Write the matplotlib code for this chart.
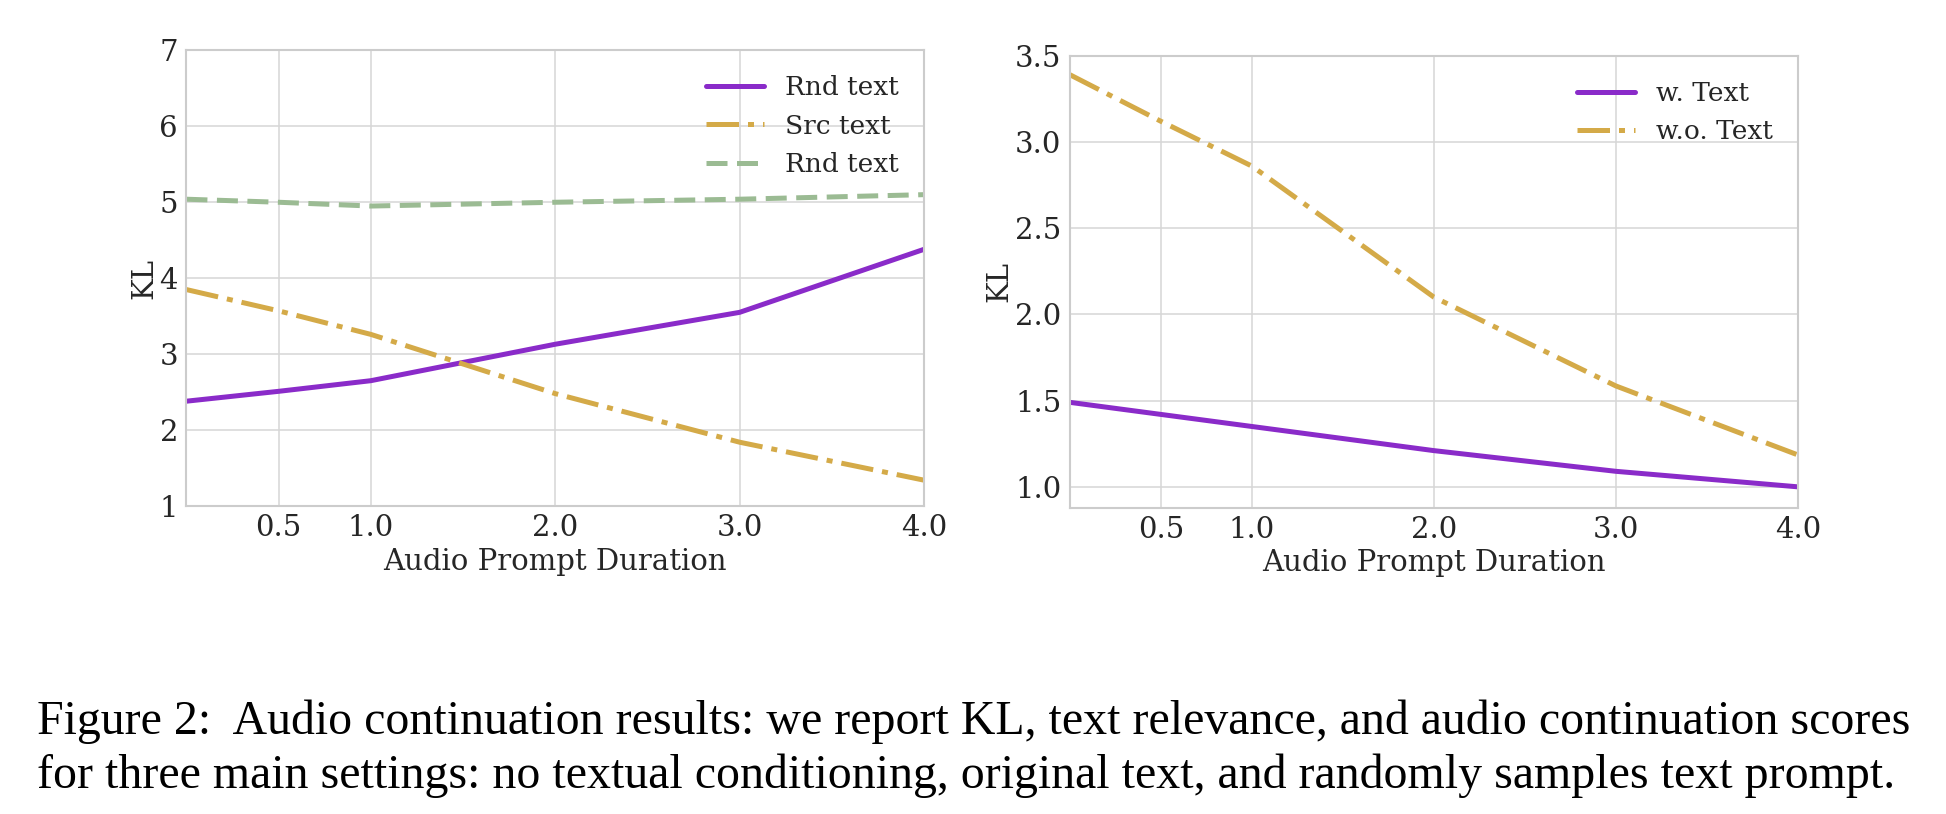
import numpy as np
import matplotlib.pyplot as plt

# audio prompt durations
x = [0.0, 0.5, 1.0, 2.0, 3.0, 4.0]
xticks = [0.5, 1.0, 2.0, 3.0, 4.0]

# left panel
rnd_text = [2.38, 2.51, 2.65, 3.13, 3.55, 4.38]
src_text = [3.85, 3.57, 3.26, 2.48, 1.84, 1.34]
rnd_text2 = [5.04, 5.00, 4.95, 5.00, 5.04, 5.10]

# right panel
w_text = [1.49, 1.42, 1.35, 1.21, 1.09, 1.00]
wo_text = [3.39, 3.12, 2.86, 2.10, 1.585, 1.185]

purple = '#8a2bc9'
gold = '#d4aa48'
green = '#9bbb93'

plt.style.use('seaborn-v0_8-whitegrid')
plt.rcParams['font.family'] = 'DejaVu Serif'
plt.rcParams['axes.edgecolor'] = '#cccccc'
plt.rcParams['grid.color'] = '#d6d6d6'

fig = plt.figure(figsize=(19.46, 8.14), dpi=100)
ax1 = fig.add_axes([0.0958, 0.3784, 0.379, 0.5597])
ax2 = fig.add_axes([0.5498, 0.3765, 0.3741, 0.555])

ax1.plot(x, rnd_text, color=purple, lw=3.6, label='Rnd text')
ax1.plot(x, src_text, color=gold, lw=3.6, dashes=(6.5, 1.8, 1.2, 1.8), label='Src text')
ax1.plot(x, rnd_text2, color=green, lw=3.6, dashes=(4.2, 1.9), label='Rnd text')
ax1.set_ylim(1, 7)
ax1.set_yticks([1, 2, 3, 4, 5, 6, 7])

ax2.plot(x, w_text, color=purple, lw=3.6, label='w. Text')
ax2.plot(x, wo_text, color=gold, lw=3.6, dashes=(6.5, 1.8, 1.2, 1.8), label='w.o. Text')
ax2.set_ylim(0.88, 3.5)
ax2.set_yticks([1.0, 1.5, 2.0, 2.5, 3.0, 3.5])
ax2.set_yticklabels(['1.0', '1.5', '2.0', '2.5', '3.0', '3.5'])

for ax in (ax1, ax2):
    ax.set_xlim(0, 4)
    ax.set_xticks(xticks)
    ax.set_xticklabels(['0.5', '1.0', '2.0', '3.0', '4.0'])
    ax.tick_params(labelsize=21, length=0, pad=6)
    ax.set_xlabel('Audio Prompt Duration', fontsize=21, labelpad=4)
    ax.set_ylabel('KL', fontsize=21, labelpad=1)
    for s in ax.spines.values():
        s.set_linewidth(1.5)
        s.set_color('#cccccc')
    ax.grid(lw=1.1)
    ax.legend(loc='upper right', fontsize=19, frameon=False, handlelength=2.2,
              handletextpad=0.8, labelspacing=0.5, borderaxespad=0.55)

fig.text(0.019, 1 - 734 / 814, 'Figure 2:  Audio continuation results: we report KL, text relevance, and audio continuation scores',
         family='Liberation Serif', fontsize=34.5, va='baseline', color='black')
fig.text(0.019, 1 - 788 / 814, 'for three main settings: no textual conditioning, original text, and randomly samples text prompt.',
         family='Liberation Serif', fontsize=34.5, va='baseline', color='black')

fig.savefig('out.png', dpi=100)
